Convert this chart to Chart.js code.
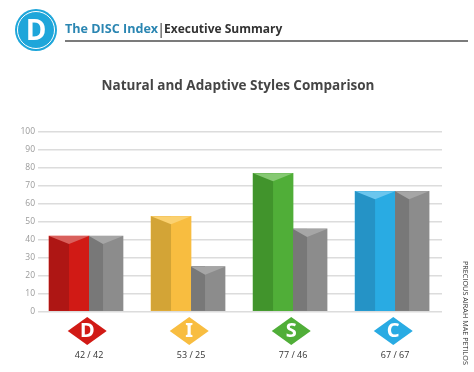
<!DOCTYPE html>
<html>
<head>
<meta charset="utf-8">
<script src="https://cdn.jsdelivr.net/npm/chart.js@4"></script>
<style>
html, body { margin: 0; padding: 0; background: #fff; }
body { width: 474px; height: 372px; position: relative; overflow: hidden; font-family: "Open Sans", sans-serif; }
canvas { position: absolute; left: 0; top: 0; }
.txt { position: absolute; white-space: nowrap; font-weight: 700; line-height: 1; }
#logo { position: absolute; left: 15px; top: 9px; width: 42px; height: 42px; box-sizing: border-box; border-radius: 50%; background: #1ea6da; }
#logoRing { position: absolute; left: 2px; top: 2px; width: 38px; height: 38px; box-sizing: border-box; border: 1px solid #fff; border-radius: 50%; }
#logoD { left: 0; width: 42px; top: 6px; text-align: center; color: #fff; font-size: 28px; }
#rule { position: absolute; left: 65px; top: 40px; width: 403px; height: 1.5px; background: #7b7b7b; }
#sign { position: absolute; left: 461px; top: 261px; font-size: 7.25px; color: #333; transform-origin: 0 0; transform: translateX(10px) rotate(90deg); white-space: nowrap; }
</style>
</head>
<body>
<canvas id="grafico" width="474" height="372"></canvas>
<div id="logo"><div id="logoRing"></div><div id="logoD" class="txt">D</div></div>
<div class="txt" style="left:65px;top:23px;font-size:12.6px;color:#2b86b2">The DISC Index</div>
<div class="txt" style="left:157px;top:21px;font-size:15px;font-weight:400;color:#333">|</div>
<div class="txt" style="left:164px;top:23px;font-size:12px;color:#333">Executive Summary</div>
<div id="rule"></div>
<div class="txt" style="left:0;width:476px;top:79px;text-align:center;font-size:13.5px;color:#454545">Natural and Adaptive Styles Comparison</div>
<div id="sign">PRECIOUS AIRAH MAE PETILOS</div>
<script>
const letters = ['D', 'I', 'S', 'C'];
const natural = [42, 53, 77, 67];
const adaptive = [42, 25, 46, 67];
const yTicks = [0, 10, 20, 30, 40, 50, 60, 70, 80, 90, 100];

const frontColors = ['#d11a15', '#f8bd40', '#50ae38', '#29abe3'];
const sideColors = ['#ae1614', '#d3a436', '#41942c', '#2593c6'];
const topColors = ['#d9605c', '#fbd170', '#86c973', '#6cc6ee'];
const grayFront = '#8c8c8c';
const graySide = '#787878';
const grayTop = '#a6a6a6';

const scoreLabels = natural.map((n, i) => n + ' / ' + adaptive[i]);

// faces of the 3D look, drawn over the flat bars
const caras = {
    id: 'caras',
    afterDatasetsDraw(chart) {
        const ctx = chart.ctx;
        chart.data.datasets.forEach((ds, d) => {
            chart.getDatasetMeta(d).data.forEach((bar, i) => {
                const left = bar.x - bar.width / 2;
                const right = bar.x + bar.width / 2;
                const ridge = left + ds.sideWidth;
                ctx.fillStyle = ds.sideColor[i];
                ctx.fillRect(left, bar.y, ds.sideWidth, bar.base - bar.y);
                ctx.fillStyle = ds.topColor[i];
                ctx.beginPath();
                ctx.moveTo(left, bar.y);
                ctx.lineTo(right, bar.y);
                ctx.lineTo(ridge, bar.y + 8);
                ctx.closePath();
                ctx.fill();
            });
        });
    }
};

// diamonds under the axis
const rombos = {
    id: 'rombos',
    afterDraw(chart) {
        const ctx = chart.ctx;
        const xs = chart.scales.x;
        letters.forEach((l, i) => {
            const cx = xs.getPixelForValue(i) - 1.8;
            ctx.fillStyle = frontColors[i];
            ctx.beginPath();
            ctx.moveTo(cx - 19.5, 331);
            ctx.lineTo(cx, 317);
            ctx.lineTo(cx + 19.5, 331);
            ctx.lineTo(cx, 345);
            ctx.closePath();
            ctx.fill();
            ctx.fillStyle = '#fff';
            ctx.font = '700 20px "Noto Sans"';
            ctx.textAlign = 'center';
            ctx.textBaseline = 'middle';
            ctx.fillText(l, cx, 331);
        });
    }
};

new Chart(document.getElementById('grafico').getContext('2d'), {
    type: 'bar',
    data: {
        datasets: [{
            label: 'Natural',
            data: natural.map((v, i) => ({ x: i - 20 / 102, y: v })),
            backgroundColor: frontColors,
            sideColor: sideColors,
            topColor: topColors,
            sideWidth: 20,
            barThickness: 40,
            grouped: false
        }, {
            label: 'Adaptive',
            data: adaptive.map((v, i) => ({ x: i + 17 / 102, y: v })),
            backgroundColor: grayFront,
            sideColor: adaptive.map(() => graySide),
            topColor: adaptive.map(() => grayTop),
            sideWidth: 14,
            barThickness: 34,
            grouped: false
        }]
    },
    options: {
        responsive: false,
        animation: false,
        layout: { padding: { top: 132, right: 32 } },
        plugins: { legend: { display: false }, tooltip: { enabled: false } },
        scales: {
            x: {
                type: 'linear',
                offset: false,
                min: -0.5,
                max: 3.46,
                afterBuildTicks(scale) { scale.ticks = letters.map((l, i) => ({ value: i })); },
                afterFit(scale) { scale.height = 60.5; },
                grid: { display: false, drawTicks: false },
                border: { display: false },
                ticks: {
                    autoSkip: false,
                    maxRotation: 0,
                    padding: 38.5,
                    color: '#333333',
                    font: { family: '"Open Sans"', size: 9 },
                    callback: value => scoreLabels[value]
                }
            },
            y: {
                min: 0,
                max: 100,
                afterBuildTicks(scale) { scale.ticks = yTicks.map(v => ({ value: v })); },
                afterFit(scale) { scale.width = 38; },
                grid: { color: '#dcdcdc', lineWidth: 1.5, drawTicks: false },
                border: { display: false },
                ticks: {
                    padding: 3,
                    color: '#9a9a9a',
                    font: { family: '"Open Sans"', size: 8.5 }
                }
            }
        }
    },
    plugins: [caras, rombos]
});
</script>
</body>
</html>
